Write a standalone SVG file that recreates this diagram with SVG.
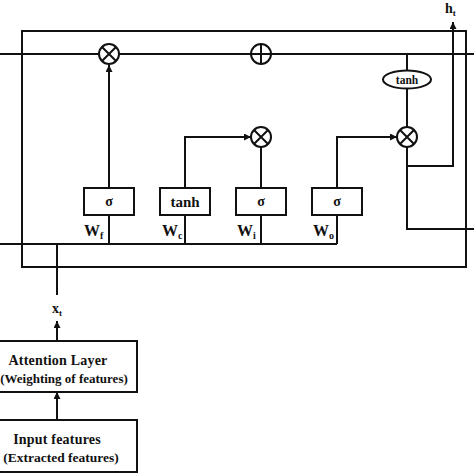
<svg xmlns="http://www.w3.org/2000/svg" width="474" height="474" viewBox="0 0 474 474">
<style>
.ln{fill:none;stroke:#111;stroke-width:2}
.bx{fill:#fff;stroke:#111;stroke-width:2}
.op{fill:#fff;stroke:#111;stroke-width:2}
.t{font-family:"Liberation Serif","Times New Roman",serif;font-weight:bold;fill:#111}
</style>
<defs>
<marker id="ar" viewBox="0 0 8 8" refX="8" refY="4" markerWidth="7" markerHeight="7" markerUnits="userSpaceOnUse" orient="auto">
<path d="M0,0 L8,4 L0,8 Z" fill="#111"/>
</marker>
</defs>
<rect id="cell" x="22" y="31" width="444" height="236" class="ln"/>
<g id="connectors">
<path class="ln" d="M0,54 H474"/>
<path class="ln" d="M0,244 H337"/>
<path class="ln" d="M57,244 V295"/>
<path class="ln" d="M109,188 V65" marker-end="url(#ar)"/>
<path class="ln" d="M185,188 V137 H251" marker-end="url(#ar)"/>
<path class="ln" d="M261,188 V147"/>
<path class="ln" d="M337,188 V137 H397" marker-end="url(#ar)"/>
<path class="ln" d="M407,54 V71 M407,88 V127"/>
<path class="ln" d="M407,147 V229 H474"/>
<path class="ln" d="M407,166 H453 V22" marker-end="url(#ar)"/>
<path class="ln" d="M109,215 V244 M185,215 V244 M261,215 V244 M337,215 V244"/>
<path class="ln" d="M57,420 V392" marker-end="url(#ar)"/>
<path class="ln" d="M57,341 V321" marker-end="url(#ar)"/>
</g>
<g id="mul_f"><circle cx="109" cy="54" r="10" class="op"/><path class="ln" d="M102,47 L116,61 M116,47 L102,61"/></g>
<g id="add_c"><circle cx="261" cy="54" r="10" class="op"/><path class="ln" d="M251,54 H271 M261,44 V64"/></g>
<g id="mul_i"><circle cx="261" cy="137" r="10" class="op"/><path class="ln" d="M254,130 L268,144 M268,130 L254,144"/></g>
<g id="mul_o"><circle cx="407" cy="137" r="10" class="op"/><path class="ln" d="M400,130 L414,144 M414,130 L400,144"/></g>
<g id="tanh_c"><ellipse cx="407" cy="79.5" rx="24" ry="9" class="bx"/><text class="t" x="407" y="83.5" font-size="11.5" text-anchor="middle">tanh</text></g>
<g id="gate_f"><rect x="84" y="188" width="50" height="27" class="bx"/><text class="t" x="109" y="206" font-size="14" text-anchor="middle">σ</text>
<text class="t" x="84" y="236" font-size="16">W<tspan font-size="10" dy="3">f</tspan></text></g>
<g id="gate_c"><rect x="160" y="188" width="50" height="27" class="bx"/><text class="t" x="185" y="206.5" font-size="15" text-anchor="middle">tanh</text>
<text class="t" x="162" y="236" font-size="16">W<tspan font-size="10" dy="3">c</tspan></text></g>
<g id="gate_i"><rect x="236" y="188" width="50" height="27" class="bx"/><text class="t" x="261" y="206" font-size="14" text-anchor="middle">σ</text>
<text class="t" x="237" y="236" font-size="16">W<tspan font-size="10" dy="3">i</tspan></text></g>
<g id="gate_o"><rect x="312" y="188" width="50" height="27" class="bx"/><text class="t" x="337" y="206" font-size="14" text-anchor="middle">σ</text>
<text class="t" x="313" y="236" font-size="16">W<tspan font-size="10" dy="3">o</tspan></text></g>
<g id="ht"><text class="t" x="445" y="13" font-size="14">h<tspan font-size="9" dy="3">t</tspan></text></g>
<g id="xt"><text class="t" x="52" y="313" font-size="14">x<tspan font-size="9" dy="3">t</tspan></text></g>
<g id="attention"><rect x="-3" y="341" width="140" height="51" class="bx"/>
<text class="t" x="58" y="365" font-size="14" text-anchor="middle" letter-spacing="0.2">Attention Layer</text>
<text class="t" x="64" y="383" font-size="13" text-anchor="middle">(Weighting of features)</text></g>
<g id="input"><rect x="-3" y="420" width="140" height="52" class="bx"/>
<text class="t" x="57" y="444" font-size="14" text-anchor="middle" letter-spacing="0.2">Input features</text>
<text class="t" x="61" y="462" font-size="13.5" text-anchor="middle">(Extracted features)</text></g>
</svg>
